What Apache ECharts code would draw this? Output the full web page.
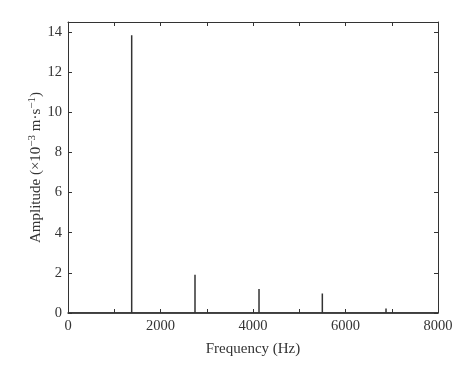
<!DOCTYPE html>
<html><head><meta charset="utf-8">
<script src="https://cdn.jsdelivr.net/npm/echarts@6/dist/echarts.min.js"></script>
<style>html,body{margin:0;padding:0;background:#fff}#c{width:474px;height:380px}</style>
</head><body><div id="c"></div>
<script>
var spikeFreq = [1377, 2746, 4130, 5499, 6876];
var spikeAmp = [13.84, 1.91, 1.2, 0.97, 0.22];
var xTicks = [0, 2000, 4000, 6000, 8000];
var yTicks = [0, 2, 4, 6, 8, 10, 12, 14];

var lineData = [[0, 0]];
for (var i = 0; i < spikeFreq.length; i++) {
  lineData.push([spikeFreq[i], 0], [spikeFreq[i], spikeAmp[i]], [spikeFreq[i], 0]);
}
lineData.push([8000, 0]);

var font = "'Liberation Serif','DejaVu Serif',serif";
var ink = '#333';
var chart = echarts.init(document.getElementById('c'));
function xAx(pos, labels) {
  return {
    type: 'value', position: pos, min: 0, max: 8000, interval: 2000,
    axisLine: {show: true, onZero: false, lineStyle: {color: ink, width: pos === 'bottom' ? 1.5 : 1}},
    axisTick: {show: true, inside: true, length: 4, lineStyle: {color: ink}},
    minorTick: {show: true, splitNumber: 2, length: 4, lineStyle: {color: ink}},
    splitLine: {show: false},
    axisLabel: {show: labels, margin: 6, color: ink, fontFamily: font, fontSize: 14.5,
      formatter: function (v) { return xTicks.indexOf(v) >= 0 ? String(v) : ''; }},
    name: labels ? 'Frequency (Hz)' : '', nameLocation: 'middle', nameGap: 29,
    nameMoveOverlap: false,
    nameTextStyle: {color: ink, fontFamily: font, fontSize: 15}
  };
}
function yAx(pos, labels) {
  return {
    type: 'value', position: pos, min: 0, max: 14.5, interval: 2,
    axisLine: {show: true, onZero: false, lineStyle: {color: ink}},
    axisTick: {show: true, inside: true, length: 4, lineStyle: {color: ink}},
    splitLine: {show: false},
    axisLabel: {show: labels, margin: 6, color: ink, fontFamily: font, fontSize: 14.5,
      formatter: function (v) { return yTicks.indexOf(v) >= 0 ? String(v) : ''; }},
    name: labels ? 'Amplitude (×10{sup|−3} m·s{sup|−1})' : '', nameLocation: 'middle', nameGap: 22,
    nameMoveOverlap: false,
    nameTextStyle: {color: ink, fontFamily: font, fontSize: 15,
      rich: {sup: {fontSize: 11, fontFamily: font, color: ink, padding: [0, 0, 8, 0]}}}
  };
}
chart.setOption({
  animation: false,
  grid: {left: 68, right: 36, top: 22, bottom: 67},
  xAxis: [xAx('bottom', true), xAx('top', false)],
  yAxis: [yAx('left', true), yAx('right', false)],
  series: [{
    type: 'line', data: lineData, symbol: 'none', xAxisIndex: 0, yAxisIndex: 0,
    lineStyle: {color: ink, width: 1.5}
  }]
});
</script></body></html>
